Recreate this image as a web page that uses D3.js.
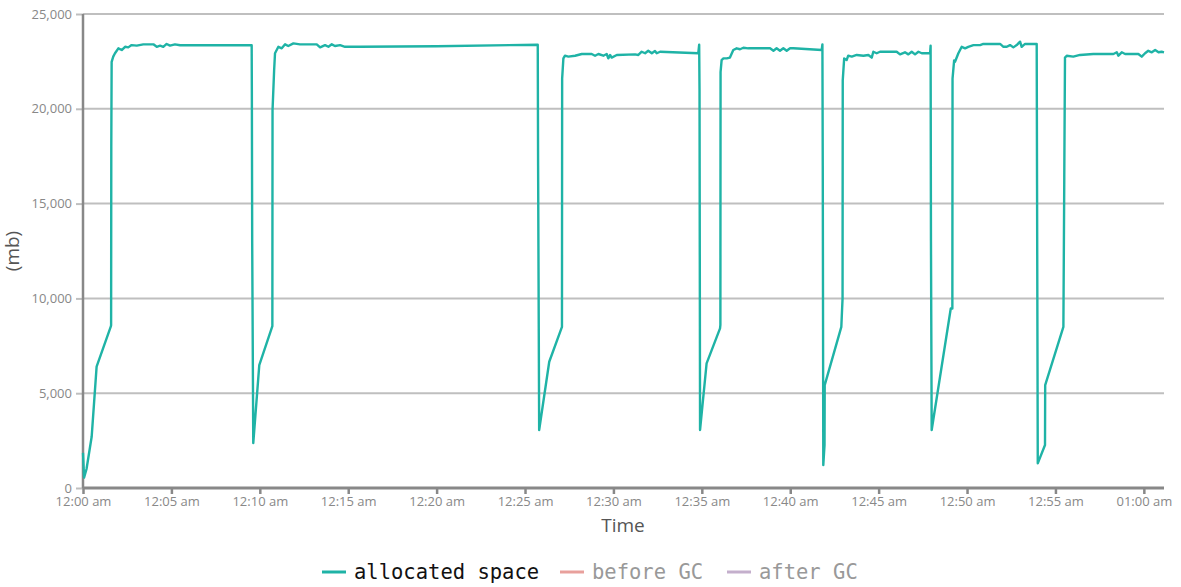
<!DOCTYPE html>
<meta charset="utf-8">
<style>
  body { margin: 0; background: #fff; }
  .tick text { font-family: "Open Sans", sans-serif; font-size: 13px; fill: #888; }
</style>

<!-- Load d3.js -->
<script src="https://d3js.org/d3.v7.min.js"></script>

<div id="chart"></div>

<script>

    // minutes after 12:00 am
    const minutes = [
        0, 0.06, 0.2, 0.49, 0.77, 1.58, 1.59, 1.60, 1.62, 1.71, 1.81, 2.00, 2.19, 2.38, 2.56, 2.75, 3.04, 3.41, 3.98,
        4.17, 4.36, 4.54, 4.73, 4.92, 5.20, 5.49, 9.54,
        9.55, 9.57, 9.63, 9.97, 10.71, 10.72, 10.81, 10.86, 11.05, 11.24, 11.43, 11.61, 11.90, 12.27, 13.22, 13.41,
        13.69, 13.88, 14.07, 14.25, 14.54, 14.82, 15.67, 20.0, 25.70,
        25.72, 25.74, 25.80, 26.37, 27.09, 27.10, 27.17, 27.26, 27.45, 27.83, 28.21, 28.77, 28.96, 29.15, 29.43,
        29.62, 29.71, 29.81, 29.90, 30.19, 31.22, 31.41, 31.60, 31.79, 31.97, 32.17, 32.35, 32.45, 32.64, 34.80,
        34.85, 34.87, 34.90, 35.27, 36.03, 36.05, 36.06, 36.12, 36.22, 36.41, 36.59, 36.78, 36.97, 37.16, 37.35,
        37.63, 38.86, 39.05, 39.23, 39.42, 39.61, 39.80, 39.99, 40.18, 41.78,
        41.82, 41.84, 41.87, 41.94, 41.95, 42.89, 42.96, 42.97, 43.05, 43.19, 43.28, 43.48, 43.76, 44.14, 44.42,
        44.61, 44.70, 44.89, 45.08, 46.02, 46.21, 46.49, 46.68, 46.87, 47.06, 47.25, 47.44, 47.91,
        47.94, 47.96, 48.00, 49.08, 49.17, 49.18, 49.27, 49.32, 49.51, 49.70, 49.89, 50.07, 50.36, 50.74, 50.92,
        51.87, 52.06, 52.25, 52.43, 52.62, 52.81, 53.00, 53.09, 53.28, 53.94,
        53.96, 54.00, 54.41, 54.42, 55.45, 55.50, 55.54, 55.64, 56.01, 56.39, 57.14, 58.28, 58.47, 58.56,
        58.75, 58.94, 59.69, 59.88, 60.07, 60.25, 60.45, 60.64, 60.83, 61.01, 61.14
    ]

    // allocated space (mb)
    const allocated = [
        1850, 550, 1000, 2700, 6400, 8540, 8600, 18000, 22480, 22750, 22930, 23190, 23100, 23270, 23240, 23360, 23330, 23400, 23400,
        23270, 23330, 23270, 23420, 23330, 23400, 23350, 23350,
        21000, 12900, 2370, 6480, 8540, 19930, 22030, 22930, 23270, 23190, 23400, 23310, 23450, 23400, 23400, 23240,
        23360, 23270, 23400, 23310, 23360, 23270, 23270, 23300, 23380,
        23380, 17000, 3060, 6660, 8500, 21590, 22660, 22800, 22750, 22800, 22890, 22890, 22800, 22890, 22800,
        22890, 22660, 22840, 22700, 22840, 22870, 22840, 23010, 22930, 23060, 22930, 23050, 22930, 23010, 22930,
        23380, 21000, 3060, 6570, 8420, 8600, 21940, 22570, 22660, 22660, 22700, 23100, 23190, 23140, 23220,
        23190, 23190, 23060, 23190, 23060, 23190, 23060, 23190, 23190, 23100,
        23400, 17000, 1210, 2270, 5430, 8500, 10000, 21500, 22650, 22570, 22800, 22750, 22840, 22800, 22840,
        22700, 23010, 22930, 23010, 23010, 22870, 22980, 22870, 23010, 22870, 23010, 22930, 22930,
        23330, 13000, 3060, 9470, 9470, 21590, 22550, 22480, 22930, 23270, 23190, 23270, 23360, 23360, 23420,
        23420, 23270, 23270, 23360, 23240, 23360, 23540, 23270, 23420, 23420,
        16000, 1300, 2270, 5430, 8500, 16400, 22700, 22800, 22750, 22840, 22890, 22890, 22980, 22800,
        22980, 22890, 22890, 22750, 22930, 23060, 22980, 23100, 22980, 23010, 22980
    ]

    const yTicks = [0, 5000, 10000, 15000, 20000, 25000]
    const legendItems = ["allocated space", "before GC", "after GC"]
    const legendColors = ["#1fb3a6", "#e8a09c", "#c4afcc"]
    const legendActive = [true, false, false]

    // Graph dimension
    const W = 1181, H = 587
    const margin = { top: 14, right: 17, bottom: 99, left: 83 },
        width = W - margin.left - margin.right,
        height = H - margin.top - margin.bottom

    const base = new Date(2020, 0, 1, 0, 0, 0)
    const toDate = m => new Date(base.getTime() + m * 60000)
    const data = minutes.map((m, i) => ({ t: toDate(m), v: allocated[i] }))

    const svg = d3.select("#chart")
        .append("svg")
        .attr("width", W)
        .attr("height", H)

    const g = svg.append("g")
        .attr("transform", `translate(${margin.left},${margin.top})`)

    // X scale
    const x = d3.scaleTime()
        .domain([base, toDate(61.14)])
        .range([0, width])

    // Y scale
    const y = d3.scaleLinear()
        .domain([0, 25000])
        .range([height, 0])

    // grid lines
    g.selectAll(".grid")
        .data(yTicks.filter(d => d > 0))
        .join("line")
        .attr("class", "grid")
        .attr("x1", 0)
        .attr("x2", width)
        .attr("y1", d => y(d))
        .attr("y2", d => y(d))
        .style("stroke", "#bfbfbf")
        .style("stroke-width", 2)

    // y axis
    const yAxis = g.append("g")
        .call(d3.axisLeft(y).tickValues(yTicks).tickSize(7).tickPadding(4).tickFormat(d3.format(",")))
    yAxis.select(".domain").remove()
    yAxis.selectAll(".tick line").style("stroke", "#bfbfbf").style("stroke-width", 2)
    g.append("line")
        .attr("x1", 0).attr("x2", 0)
        .attr("y1", 0).attr("y2", height)
        .style("stroke", "#888").style("stroke-width", 2.5)

    // x axis
    const fmt = d3.timeFormat("%I:%M %p")
    const xAxis = g.append("g")
        .attr("transform", `translate(0,${height})`)
        .call(d3.axisBottom(x)
            .ticks(d3.timeMinute.every(5))
            .tickSize(6)
            .tickPadding(3)
            .tickFormat(d => fmt(d).toLowerCase()))
    xAxis.select(".domain").remove()
    xAxis.selectAll(".tick line").style("stroke", "#888").style("stroke-width", 2.5)
    g.append("line")
        .attr("x1", 0).attr("x2", width)
        .attr("y1", height).attr("y2", height)
        .style("stroke", "#888").style("stroke-width", 3)

    // the series line
    const line = d3.line()
        .x(d => x(d.t))
        .y(d => y(d.v))

    g.append("path")
        .datum(data)
        .attr("d", line)
        .style("fill", "none")
        .style("stroke", legendColors[0])
        .style("stroke-width", 2.4)
        .style("stroke-linejoin", "round")

    // axis titles
    svg.append("text")
        .attr("transform", `translate(19,${margin.top + height / 2}) rotate(-90)`)
        .attr("text-anchor", "middle")
        .style("font-family", "'Open Sans', sans-serif")
        .style("font-size", "19px")
        .style("fill", "#555")
        .text("(mb)")

    svg.append("text")
        .attr("x", 623)
        .attr("y", 532)
        .attr("text-anchor", "middle")
        .style("font-family", "'Open Sans', sans-serif")
        .style("font-size", "19px")
        .style("fill", "#555")
        .text("Time")

    // legend
    const legendX = [322, 560, 727]
    const leg = svg.selectAll(".leg")
        .data(legendItems)
        .join("g")
        .attr("class", "leg")
        .attr("transform", (d, i) => `translate(${legendX[i]},572)`)
    leg.append("line")
        .attr("x1", 0).attr("x2", 24)
        .style("stroke", (d, i) => legendColors[i])
        .style("stroke-width", 3)
    leg.append("text")
        .attr("x", 32)
        .attr("dy", "0.35em")
        .style("font-family", "'DejaVu Sans Mono', monospace")
        .style("font-size", "20.5px")
        .style("fill", (d, i) => legendActive[i] ? "#111" : "#999")
        .text(d => d)

</script>
